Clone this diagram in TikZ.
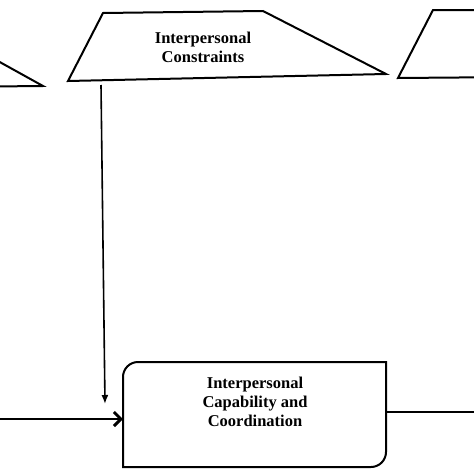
\documentclass[tikz,border=0pt]{standalone}
\usepackage{fontspec}
\setmainfont{Liberation Serif}
\usepackage{tikz}
\usetikzlibrary{arrows.meta}

\tikzset{
  shapeline/.style={line width=2pt, line join=miter},
  lbl/.style={font=\bfseries\fontsize{16.5}{19}\selectfont, align=center, inner sep=0.75pt},
}

\begin{document}
\begin{tikzpicture}[x=1pt,y=1pt,yscale=-1,xscale=1]
            \useasboundingbox (0,0) rectangle (474,474);
            \clip (0,0) rectangle (474,474);

            %Shape: Trapezoid (left, cut off)
            \draw [shapeline] (-40,40) -- (43,86) -- (-60,87) ;
            %Shape: Trapezoid (middle)
            \draw [shapeline] (103,13) -- (263,11) -- (386,74) -- (68,81) -- cycle ;
            %Shape: Trapezoid (right, cut off)
            \draw [shapeline] (520,10) -- (433,10) -- (398,78) -- (520,77) ;
            %Shape: Box with two rounded corners
            \draw [shapeline] (123,467) -- (123,377) arc[start angle=180,end angle=270,radius=15] -- (386,362) -- (386,452) arc[start angle=0,end angle=90,radius=15] -- cycle ;

            % Text Node
            \node [lbl] (cons) at (203,47) {Interpersonal\\Constraints};
            % Text Node
            \node [lbl] (capab) at (255,402) {Interpersonal\\Capability and\\Coordination};

            % Connector ends
            \coordinate (consfoot) at (101,85);
            \coordinate (constip) at (105,404);
            \coordinate (inlead) at (0,419);
            \coordinate (inend) at (123,419);
            \coordinate (outstart) at (386,412);
            \coordinate (outend) at (474,412);

            \draw [line width=1.6pt, -{Latex[length=9pt,width=7pt]}] (consfoot) -- (constip) ;
            \draw [line width=2.6pt, -{Straight Barb[length=7pt,width=14pt,line width=3pt]}] (inlead) -- (inend) ;
            \draw [line width=2.6pt] (outstart) -- (outend) ;
\end{tikzpicture}
\end{document}
